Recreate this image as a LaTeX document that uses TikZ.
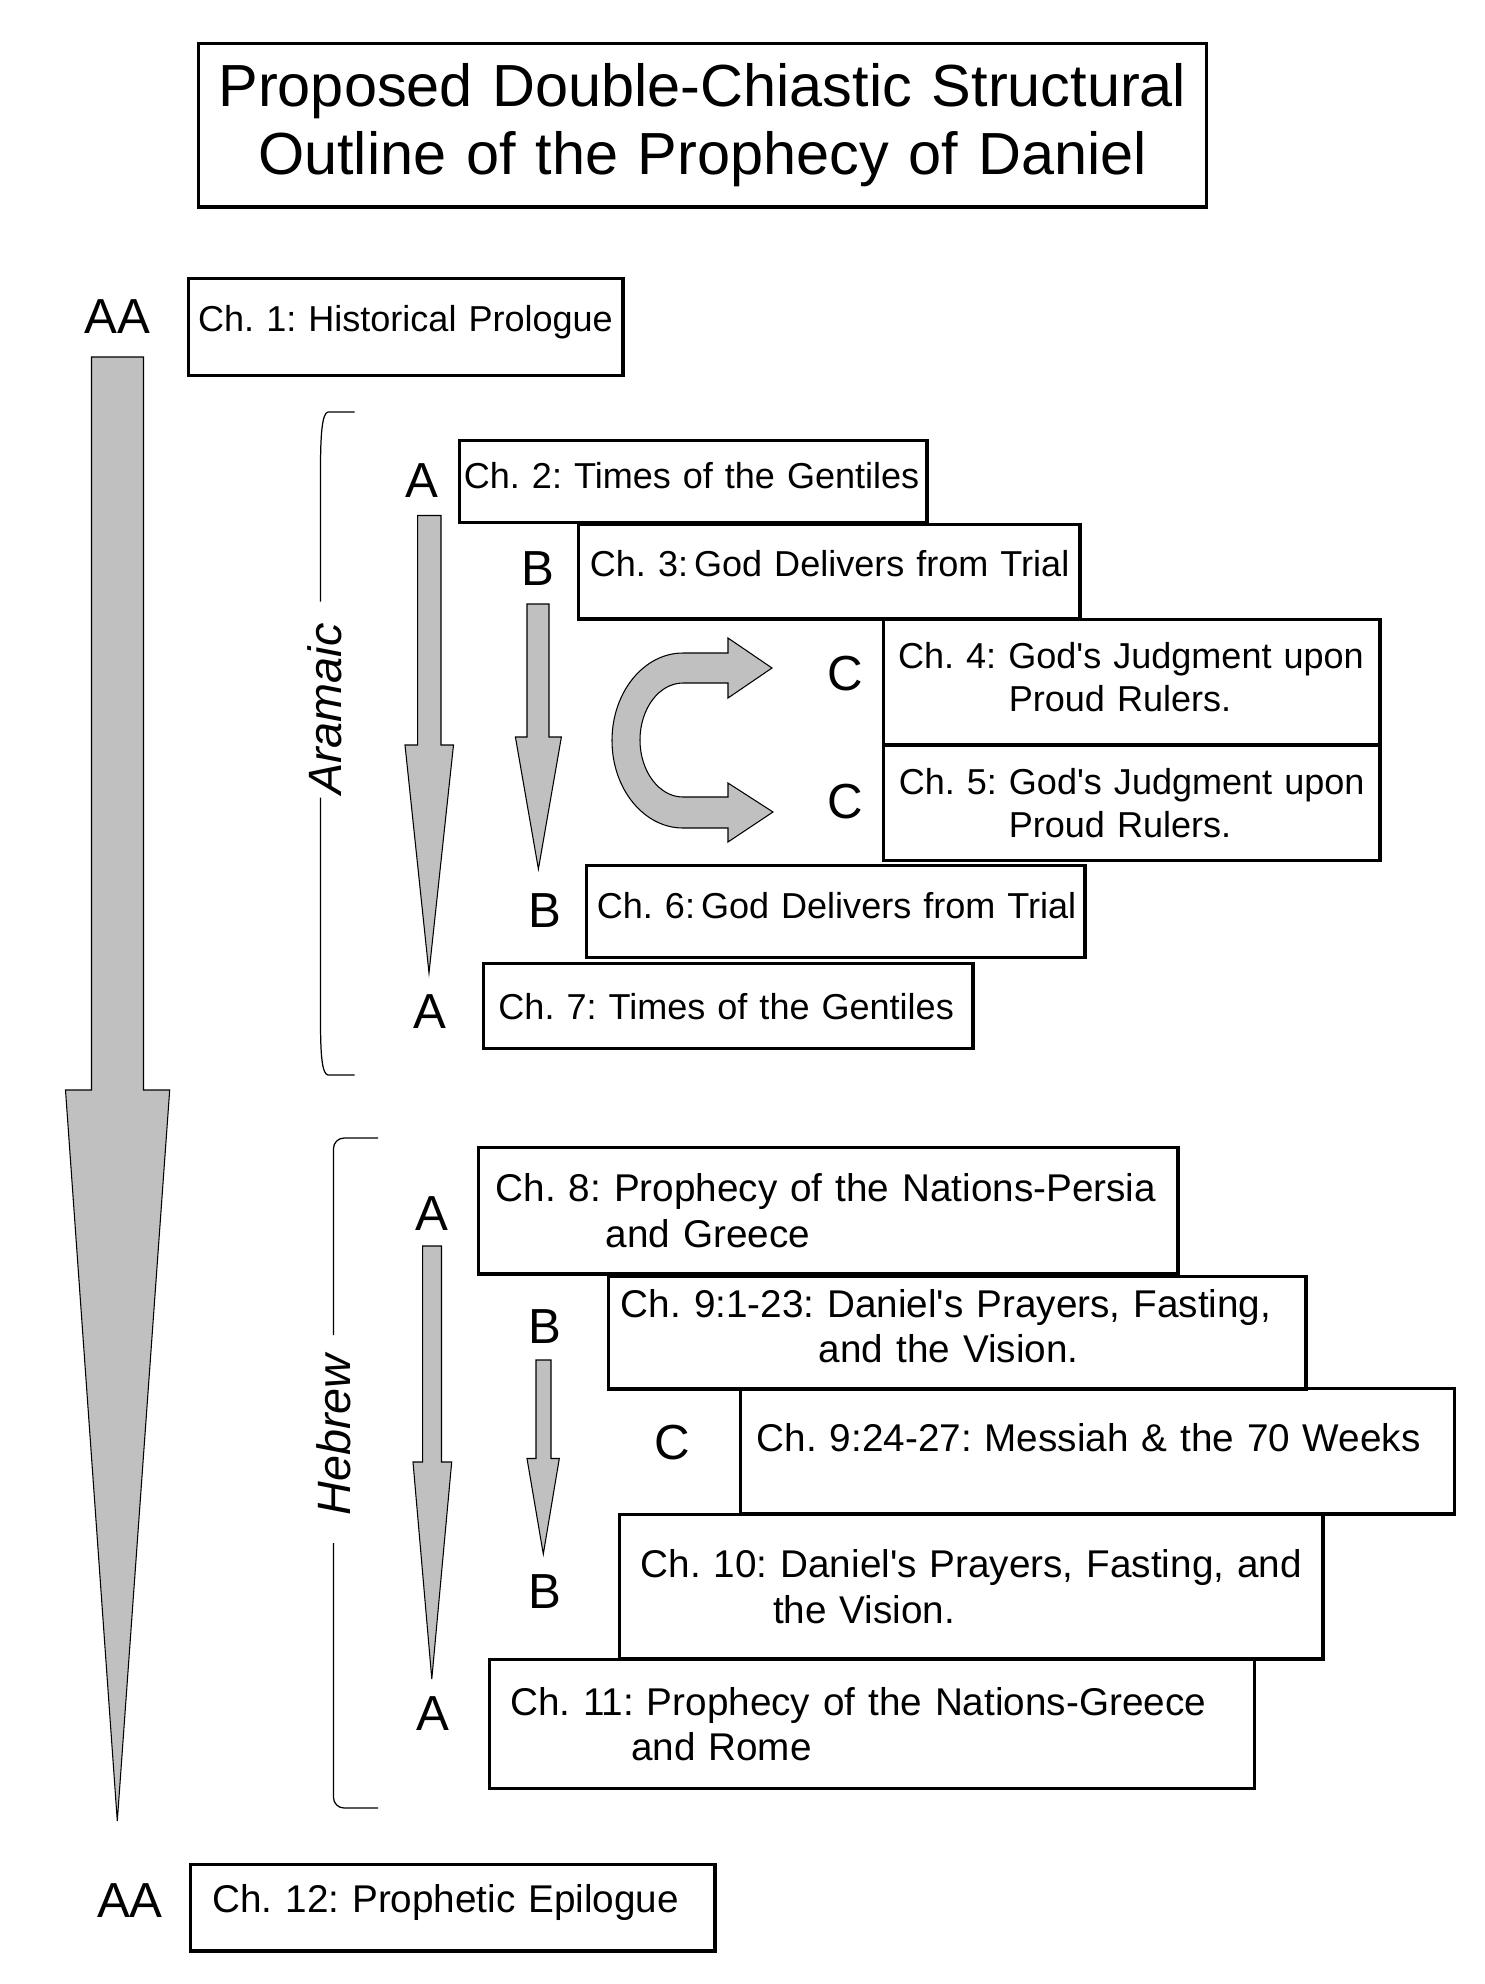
\documentclass[tikz,border=0pt]{standalone}
\usepackage{fontspec}
\setmainfont{Liberation Sans}
\frenchspacing
\definecolor{arrowgray}{RGB}{192,192,192}
\newcommand{\ap}{\textquotesingle}
\newcommand{\lift}[1]{\rule[-#1]{0pt}{0pt}}
\tikzset{
  chbox/.style={draw, line width=0.95pt, anchor=north west, inner sep=0pt, align=left},
  aramtext/.style={font=\fontsize{10.25}{12.2}\selectfont},
  hebtext/.style={font=\fontsize{11}{12.9}\selectfont},
  chlabel/.style={font=\fontsize{14}{14}\selectfont, inner sep=0pt},
  langlabel/.style={font=\fontsize{13.3}{13.3}\selectfont\itshape, rotate=90, inner sep=0pt},
  grayarrow/.style={fill=arrowgray, draw=black, line width=0.3pt},
  bracket/.style={draw=black, line width=0.35pt},
}
\begin{document}
\begin{tikzpicture}[x=0.01cm, y=-0.01cm]
\fill[white] (0,0) rectangle (1484,1984);
\useasboundingbox (0,0) rectangle (1484,1984);

% title
\node[chbox, align=center, text width=286.5pt, minimum height=46.4pt, font=\fontsize{16.9}{19.2}\selectfont] (title) at (197,42) {Proposed Double-Chiastic Structural\\Outline of the Prophecy of Daniel};

% outer frame AA
\node[chlabel] (aaTop) at (117.5,317) {AA};
\node[chbox, aramtext, text width=123.5pt, minimum height=27.6pt] (ch1) at (187,277) {\hspace*{2.7pt}\mbox{Ch. 1: Historical Prologue}\lift{5.1pt}};
\draw[grayarrow] (91.5,357) -- (143.5,357) -- (143.5,1090) -- (169.7,1090) -- (117.3,1821) -- (65.5,1090) -- (91.5,1090) -- cycle;
\node[chlabel] (aaBottom) at (130,1901) {AA};
\node[chbox, hebtext, text width=149.1pt, minimum height=24.5pt] (ch12) at (189,1863) {\hspace*{6.2pt}\mbox{Ch. 12: Prophetic Epilogue}\lift{5.3pt}};

% Aramaic part
\draw[bracket] (354.5,412) -- (328,412) .. controls (322,413) and (320.5,435) .. (320.5,470) -- (320.5,601.5);
\draw[bracket] (320.5,797.5) -- (320.5,1020) .. controls (320.5,1055) and (322,1074) .. (328,1075) -- (354.5,1075);
\node[langlabel] (aramaic) at (325,709) {Aramaic};

\node[chlabel] (aTwo) at (422,480.5) {A};
\node[chbox, aramtext, text width=132.9pt, minimum height=23.3pt] (ch2) at (458,439) {\hspace*{1.2pt}\mbox{Ch. 2: Times of the Gentiles}\lift{3.6pt}};
\node[chlabel] (bThree) at (538,569) {B};
\node[chbox, aramtext, text width=142.6pt, minimum height=26.8pt] (ch3) at (577,523) {\hspace*{3.2pt}\mbox{Ch. 3:\,God Delivers from Trial}\lift{5pt}};
\node[chlabel] (cFour) at (845,674) {C};
\node[chbox, aramtext, text width=141.1pt, minimum height=35.6pt] (ch4) at (882,618) {\hspace*{4.1pt}\mbox{Ch. 4: God\ap s Judgment upon}\\\hspace*{35.6pt}\mbox{Proud Rulers.}\lift{3.2pt}};
\node[chlabel] (cFive) at (845,802) {C};
\node[chbox, aramtext, text width=141.1pt, minimum height=33pt] (ch5) at (882,743) {\hspace*{4.3pt}\mbox{Ch. 5: God\ap s Judgment upon}\\\hspace*{35.6pt}\mbox{Proud Rulers.}};
\node[chlabel] (bSix) at (545,911) {B};
\node[chbox, aramtext, text width=141.7pt, minimum height=26.2pt] (ch6) at (585,864) {\hspace*{2.9pt}\mbox{Ch. 6:\,God Delivers from Trial}\lift{3.6pt}};
\node[chlabel] (aSeven) at (430,1012) {A};
\node[chbox, aramtext, text width=139.1pt, minimum height=24.2pt] (ch7) at (482,962) {\hspace*{4.2pt}\mbox{Ch. 7: Times of the Gentiles}};

\draw[grayarrow] (417.6,515.5) -- (441,515.5) -- (441,745) -- (453.5,745) -- (429,973) -- (405,745) -- (417.6,745) -- cycle;
\draw[grayarrow] (527,604) -- (549,604) -- (549,737) -- (561.4,737) -- (538.4,869) -- (515.4,737) -- (527,737) -- cycle;
\draw[grayarrow] (683,683) -- (728,683) -- (728,698) -- (772,668) -- (728,638) -- (728,653) -- (683,653)
  arc[start angle=270, end angle=90, x radius=71, y radius=87.5]
  -- (728,828) -- (728,842) -- (773,812) -- (728,783) -- (728,797) -- (683,797)
  arc[start angle=90, end angle=270, x radius=43, y radius=57] -- cycle;

% Hebrew part
\draw[bracket, rounded corners=3pt] (378,1138) -- (333.5,1138) -- (333.5,1335);
\draw[bracket, rounded corners=3pt] (333.5,1543) -- (333.5,1808) -- (378,1808);
\node[langlabel] (hebrew) at (334,1435) {Hebrew};

\node[chlabel] (aEight) at (432,1214) {A};
\node[chbox, hebtext, text width=198.9pt, minimum height=35.9pt] (ch8) at (477,1146) {\hspace*{4.9pt}\mbox{Ch. 8: Prophecy of the Nations-Persia}\\\hspace*{36.2pt}\mbox{and Greece}};
\node[chlabel] (bNine) at (545,1327) {B};
\node[chbox, hebtext, text width=198.3pt, minimum height=31.9pt] (ch9a) at (607,1275) {\hspace*{3.5pt}\mbox{Ch. 9:1-23: Daniel\ap s Prayers, Fasting,}\\\hspace*{59.8pt}\mbox{and the Vision.}\lift{4pt}};
\node[chlabel] (cNine) at (672,1443) {C};
\node[chbox, hebtext, text width=202.9pt, minimum height=35.6pt, text depth=8pt] (ch9b) at (739,1387) {\hspace*{4.6pt}\mbox{Ch. 9:24-27: Messiah \& the 70 Weeks}};
\node[chlabel] (bTen) at (545,1592) {B};
\node[chbox, hebtext, text width=200pt, minimum height=41pt] (ch10) at (618,1513) {\hspace*{6pt}\mbox{Ch. 10: Daniel\ap s Prayers, Fasting, and}\\\hspace*{43.6pt}\mbox{the Vision.}};
\node[chlabel] (aEleven) at (433,1714) {A};
\node[chbox, hebtext, text width=217.4pt, minimum height=36.7pt] (ch11) at (488,1658) {\hspace*{5.8pt}\mbox{Ch. 11: Prophecy of the Nations-Greece}\\\hspace*{40.2pt}\mbox{and Rome}};

\draw[grayarrow] (422.6,1246) -- (441.5,1246) -- (441.5,1462) -- (451.7,1462) -- (431.8,1679) -- (413,1462) -- (422.6,1462) -- cycle;
\draw[grayarrow] (536,1360) -- (551,1360) -- (551,1458.5) -- (559.3,1458.5) -- (543.3,1554) -- (527,1458.5) -- (536,1458.5) -- cycle;
\end{tikzpicture}
\end{document}
